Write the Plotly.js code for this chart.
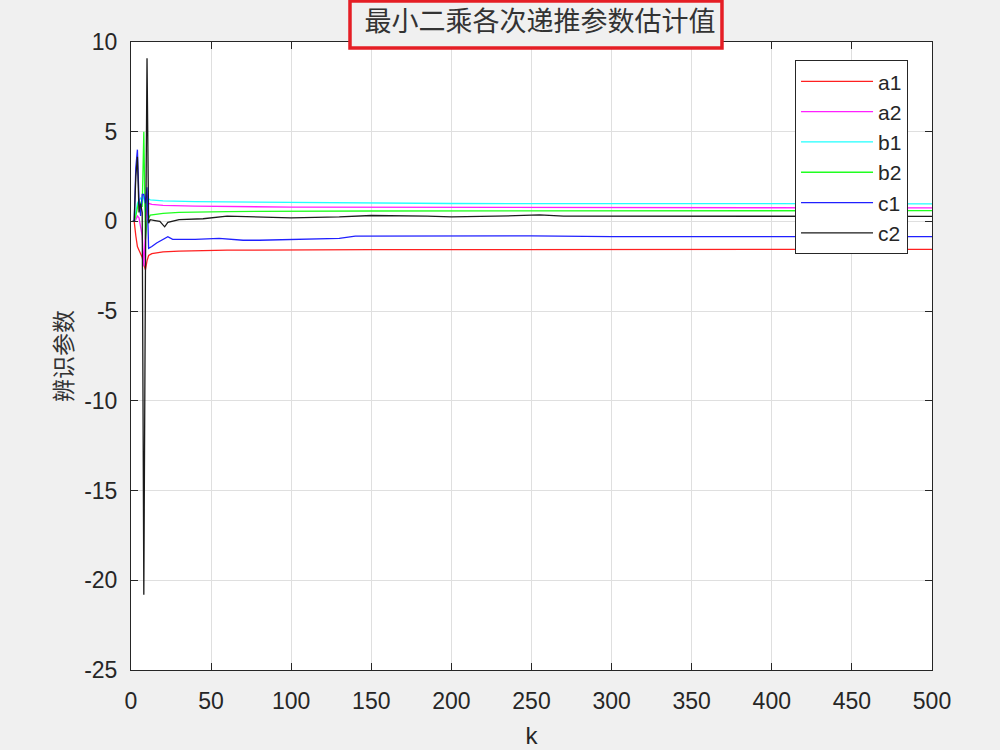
<!DOCTYPE html>
<html>
<head>
<meta charset="utf-8">
<script src="https://cdn.plot.ly/plotly-3.0.1.min.js"></script>
<style>html,body{margin:0;padding:0;background:#f0f0f0;}#chart{width:1000px;height:750px;}</style>
</head>
<body>
<div id="chart"></div>
<script>
// a1 (red)
const kA1 = [1,2,3,4,5,6,7,8,9,10,11,13,20,30,60,150,300,500];
const a1  = [0,0,-0.8,-1.4,-1.6,-1.8,-2.0,-2.4,-2.7,-2.2,-1.9,-1.8,-1.7,-1.65,-1.6,-1.57,-1.56,-1.56];
// a2 (magenta)
const kA2 = [1,2,3,4,5,6,7,8,9,10,11,13,20,40,100,200,500];
const a2  = [0,0,0.1,0.3,0.2,-0.3,-0.8,-2.5,-0.5,1.5,1.0,0.95,0.9,0.85,0.8,0.78,0.75];
// b1 (cyan)
const kB1 = [1,2,3,4,5,6,7,8,9,10,12,20,40,100,200,500];
const b1  = [0,0,0.5,1.0,1.2,1.3,1.1,1.5,0.5,1.3,1.2,1.15,1.1,1.05,1.0,0.98];
// b2 (green)
const kB2 = [1,2,3,4,5,6,7,8,9,10,12,20,30,60,150,500];
const b2  = [0,0,0.3,0.8,1.2,1.0,0.8,5.0,-1.0,0.0,0.35,0.45,0.5,0.55,0.58,0.6];
// c1 (blue)
const kC1 = [1,2,3,4,5,6,7,8,9,10,11,13,16,20,23,26,40,55,70,80,100,130,140,250,300,500];
const c1  = [0,0,3.0,4.0,1.2,0.3,1.5,1.5,1.0,1.9,-1.5,-1.4,-1.2,-1.0,-0.85,-1.0,-1.0,-0.95,-1.05,-1.05,-1.0,-0.95,-0.82,-0.8,-0.85,-0.85];
// c2 (black)
const kC2 = [1,2,3,4,5,6,7,8,9,10,11,12,15,18,21,23,30,45,60,75,100,130,150,185,200,240,255,270,300,360,400,500];
const c2  = [0,0,2.5,3.6,0.5,1.0,0.5,-20.8,-3,9.1,-0.1,0.1,0.05,0.0,-0.3,-0.05,0.1,0.15,0.3,0.25,0.2,0.25,0.33,0.3,0.25,0.32,0.36,0.3,0.3,0.28,0.3,0.28];

const names  = ['a1','a2','b1','b2','c1','c2'];
const colors = ['#ff2020','#ff20ff','#20ffff','#20ff20','#2020ff','#1a1a1a'];
const xs = [kA1,kA2,kB1,kB2,kC1,kC2];
const ys = [a1,a2,b1,b2,c1,c2];

const xTicks = [0,50,100,150,200,250,300,350,400,450,500];
const yTicks = [-25,-20,-15,-10,-5,0,5,10];

const NUM_FONT = '"Liberation Sans", Arial, sans-serif';
const CJK_FONT = '"Noto Sans CJK SC", sans-serif';

const traces = names.map((n,i)=>({
  x: xs[i], y: ys[i], name: n, type: 'scatter', mode: 'lines',
  line: {color: colors[i], width: 1.3}
}));

const axisCommon = {
  showline: true, mirror: 'ticks', linecolor: '#262626', linewidth: 1,
  ticks: 'inside', ticklen: 7, tickcolor: '#262626', tickwidth: 1,
  showgrid: true, gridcolor: '#dfdfdf', gridwidth: 1, zeroline: false,
  tickfont: {family: NUM_FONT, size: 23, color: '#262626'}
};

const layout = {
  width: 1000, height: 750,
  paper_bgcolor: '#f0f0f0', plot_bgcolor: '#ffffff',
  margin: {l: 131, r: 68, t: 42, b: 80},
  title: {text: '最小二乘各次递推参数估计值', x: 0.54, xanchor: 'center', y: 0.971, yanchor: 'middle',
          font: {family: CJK_FONT, size: 27, color: '#333333'}},
  xaxis: Object.assign({}, axisCommon, {
    range: [0, 500], tickvals: xTicks, ticktext: xTicks.map(String), ticklabelstandoff: 10,
    title: {text: 'k', font: {family: NUM_FONT, size: 24, color: '#262626'}, standoff: 14}
  }),
  yaxis: Object.assign({}, axisCommon, {
    range: [-25, 10], tickvals: yTicks, ticktext: yTicks.map(String), ticklabelstandoff: 8,
    title: {text: '辨识参数', font: {family: CJK_FONT, size: 23, color: '#333333'}, standoff: 5}
  }),
  showlegend: true,
  legend: {x: 0.829, xanchor: 'left', y: 0.971, yanchor: 'top', bgcolor: '#ffffff',
           bordercolor: '#262626', borderwidth: 1, itemwidth: 72,
           font: {family: NUM_FONT, size: 21, color: '#262626'}},
  shapes: [{type: 'rect', xref: 'paper', yref: 'paper', x0: 0.2734, x1: 0.7378, y0: 0.9904, y1: 1.0653,
            line: {color: '#e51e25', width: 3.5}, fillcolor: '#f0f0f0', layer: 'above'}]
};

Plotly.newPlot('chart', traces, layout, {displayModeBar: false, staticPlot: true});
</script>
</body>
</html>
